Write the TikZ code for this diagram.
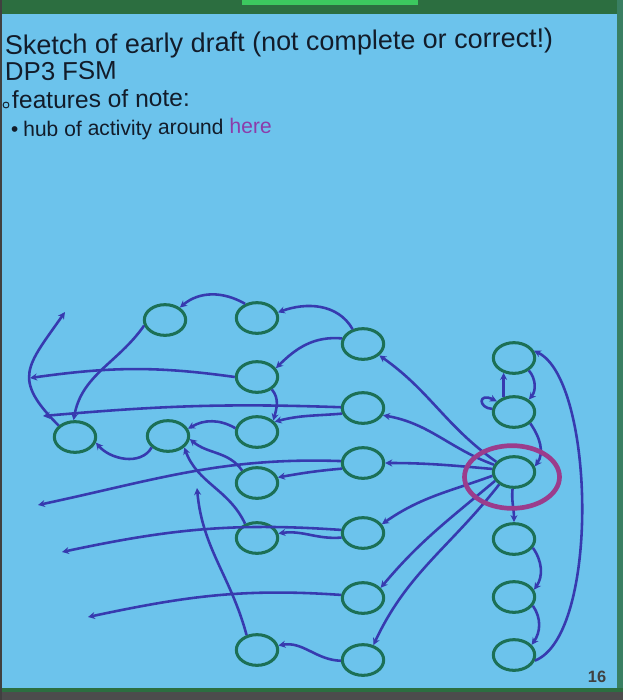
\documentclass[tikz,border=0pt]{standalone}
\usepackage{fontspec}
\setmainfont{Liberation Sans}
\usetikzlibrary{shapes.geometric,arrows.meta}
\definecolor{slide}{RGB}{108,195,236}
\definecolor{framegreen}{RGB}{44,110,64}
\definecolor{brightgreen}{RGB}{60,200,95}
\definecolor{statecol}{RGB}{28,112,86}
\definecolor{transcol}{RGB}{55,58,175}
\definecolor{ringcol}{RGB}{155,60,140}
\definecolor{herecol}{RGB}{140,60,170}
\definecolor{textcol}{RGB}{18,28,42}
\tikzset{
  stateoval/.style={ellipse, draw=statecol, line width=2.6pt, minimum width=1.24cm, minimum height=0.92cm, inner sep=0pt},
  trans/.style={draw=transcol, line width=2.2pt, -{Stealth[length=6pt,width=6pt]}},
  hubring/.style={ellipse, draw=ringcol, line width=4pt, minimum width=2.85cm, minimum height=1.88cm, inner sep=0pt},
  slidetext/.style={anchor=base west, inner sep=0pt, text=textcol, rotate=0.85}
}
\begin{document}
\begin{tikzpicture}[x=0.03cm,y=0.03cm]
\useasboundingbox (0,0) rectangle (623,-700);
% Draw the slide
\fill[slide] (0,0) rectangle (623,-700);
\fill[framegreen] (0,0) rectangle (623,-14);
\fill[brightgreen] (242,0) rectangle (418,-5);
\fill[framegreen!80!slide] (617,0) rectangle (623,-700);
\fill[black!70] (0,-690) rectangle (623,-700);
\fill[framegreen] (0,-688) rectangle (623,-692);
\fill[black!75] (0,0) rectangle (2,-700);
% Slide text
\node[slidetext, font=\fontsize{23}{27}\selectfont] (title) at (5,-55) {Sketch of early draft (not complete or correct!)};
\node[slidetext, font=\fontsize{22}{26}\selectfont] (dp3) at (5,-81) {DP3 FSM};
\node[circle, draw=textcol, line width=0.8pt, inner sep=0pt, minimum size=5pt] (obul) at (6,-105) {};
\node[slidetext, font=\fontsize{21}{25}\selectfont] (feat) at (12,-109) {features of note:};
\node[slidetext, font=\fontsize{18}{22}\selectfont] (hub) at (11,-137) {\textbullet\hspace{4pt}hub of activity around \textcolor{herecol}{here}};
\node[font=\bfseries\fontsize{14}{16}\selectfont, text=black!75] (pagenum) at (597,-677) {16};
% Draw the states, column by column
\node[stateoval] (a1) at (75,-437) {};
\node[stateoval] (b1) at (165,-320) {};
\node[stateoval] (b2) at (168,-436) {};
\foreach \y [count=\i] in {318,377,432,483,538,650}
  \node[stateoval] (c\i) at (257,-\y) {};
\foreach \y [count=\i] in {344,408,463,533,598,660}
  \node[stateoval] (d\i) at (363,-\y) {};
\foreach \y [count=\i] in {358,412,472,539,597,655}
  \node[stateoval] (e\i) at (514,-\y) {};
% Loose ends on the left, label them o1, o2, etc.
\coordinate (o1) at (65,-312);
\coordinate (o2) at (30,-378);
\coordinate (o3) at (43,-416);
\coordinate (o4) at (38,-505);
\coordinate (o5) at (62,-552);
\coordinate (o6) at (88,-617);
\coordinate (o7) at (197,-488);
% Top left part
\draw[trans] (c1.130) to[out=150,in=40] (b1.40);
\draw[trans] (d1.125) to[out=120,in=20] (c1.15);
\draw[trans] (d1.165) to[out=175,in=45] (c2.25);
\draw[trans] (b1.195) to[out=235,in=80] (a1.95);
\draw[trans] (a1.145) to[out=135,in=235,looseness=1.5] (o1);
\draw[trans] (c2.west) to[out=172,in=8] (o2);
\draw[trans] (c2.-40) to[out=-50,in=75] (c3.35);
\draw[trans] (d2.178) to[out=178,in=5] (o3);
\draw[trans] (d2.195) to[out=185,in=15] (c3.30);
\draw[trans] (c3.170) to[out=150,in=30] (b2.20);
\draw[trans] (b2.215) to[out=240,in=-50] (a1.-15);
% Everything heading back to b2
\draw[trans] (c4.140) to[out=125,in=-40] (b2.-8);
\draw[trans] (c5.130) to[out=115,in=-70] (b2.-35);
\draw[trans] (c6.125) to[out=105,in=-85] (o7);
% Long lines off to the left
\draw[trans] (d3.175) to[out=178,in=12] (o4);
\draw[trans] (d3.195) to[out=185,in=10] (c4.15);
\draw[trans] (d4.172) to[out=176,in=12] (o5);
\draw[trans] (d4.192) to[out=185,in=8] (c5.12);
\draw[trans] (d5.172) to[out=176,in=12] (o6);
\draw[trans] (d6.182) to[out=178,in=10] (c6.12);
% The hub e3
\draw[trans] (e3.150) to[out=145,in=-35] (d1.-35);
\draw[trans] (e3.160) to[out=160,in=-10] (d2.-20);
\draw[trans] (e3.172) to[out=175,in=0] (d3.east);
\draw[trans] (e3.190) to[out=200,in=35] (d4.25);
\draw[trans] (e3.205) to[out=220,in=50] (d5.30);
\draw[trans] (e3.220) to[out=232,in=65] (d6.55);
% Right column
\draw[trans] (e1.-40) to[out=-50,in=50] (e2.40);
\draw[trans] (e2.172) .. controls (478,-408) and (478,-392) .. (e2.148);
\draw[trans] (e2.125) -- (e1.235);
\draw[trans] (e2.-35) to[out=-55,in=55] (e3.15);
\draw[trans] (e3.-95) to[out=-95,in=90] (e4.north);
\draw[trans] (e4.-25) to[out=-55,in=55] (e5.20);
\draw[trans] (e5.-25) to[out=-55,in=55] (e6.30);
\draw[trans] (e6.-15) .. controls (600,-635) and (595,-380) .. (e1.20);
% Circle round the hub
\node[hubring] (ring) at (512,-477) {};
\end{tikzpicture}
\end{document}
